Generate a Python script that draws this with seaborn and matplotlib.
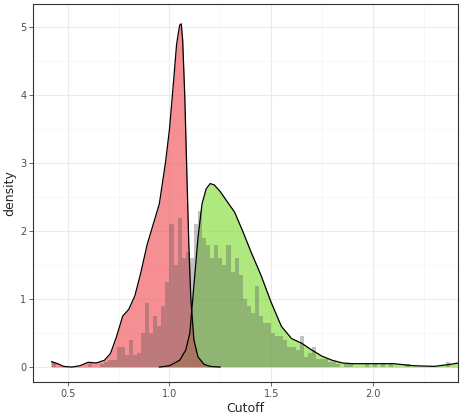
import numpy as np
import pandas as pd
import matplotlib
matplotlib.use("Agg")
import matplotlib.pyplot as plt
import seaborn as sns

# histogram bins (left edges, width 0.02) and density heights
bin_starts = [round(0.42 + 0.02 * i, 2) for i in range(100)]
hist_vals = {0.42: 0.07, 0.60: 0.05, 0.66: 0.05, 0.68: 0.07, 0.70: 0.1, 0.72: 0.1,
             0.74: 0.3, 0.76: 0.3, 0.78: 0.18, 0.80: 0.4, 0.82: 0.18, 0.84: 0.2,
             0.86: 0.5, 0.88: 0.95, 0.90: 0.5, 0.92: 0.75, 0.94: 0.6, 0.96: 0.9,
             0.98: 1.25, 1.00: 2.1, 1.02: 1.5, 1.04: 2.2, 1.06: 1.6, 1.08: 1.7,
             1.10: 1.6, 1.12: 2.1, 1.14: 2.3, 1.16: 1.9, 1.18: 1.8, 1.20: 1.6,
             1.22: 1.8, 1.24: 1.6, 1.26: 1.5, 1.28: 1.8, 1.30: 1.4, 1.32: 1.6,
             1.34: 1.35, 1.36: 1.0, 1.38: 0.9, 1.40: 0.8, 1.42: 1.2, 1.44: 0.75,
             1.46: 0.65, 1.48: 0.65, 1.50: 0.5, 1.52: 0.45, 1.54: 0.45, 1.56: 0.4,
             1.58: 0.3, 1.60: 0.3, 1.62: 0.25, 1.64: 0.45, 1.66: 0.15, 1.68: 0.2,
             1.70: 0.3, 1.72: 0.12, 1.74: 0.12, 1.76: 0.12, 1.78: 0.08, 1.80: 0.08,
             1.82: 0.05, 1.86: 0.05, 1.88: 0.05, 1.96: 0.05, 2.00: 0.05, 2.04: 0.05,
             2.08: 0.05, 2.16: 0.05, 2.36: 0.07}
hist_heights = [hist_vals.get(b, 0.0) for b in bin_starts]

# density curve of first group (red)
red_x = [0.42, 0.45, 0.48, 0.52, 0.56, 0.60, 0.64, 0.68, 0.71, 0.74, 0.77, 0.80, 0.83,
         0.86, 0.89, 0.92, 0.95, 0.98, 1.00, 1.02, 1.035, 1.05, 1.058, 1.065, 1.075,
         1.085, 1.095, 1.105, 1.12, 1.14, 1.17, 1.20, 1.25]
red_y = [0.08, 0.05, 0.01, 0.0, 0.02, 0.07, 0.06, 0.1, 0.2, 0.45, 0.75, 0.85, 1.05,
         1.4, 1.8, 2.1, 2.4, 3.0, 3.5, 4.2, 4.75, 5.03, 5.05, 4.8, 4.0,
         2.9, 1.8, 1.0, 0.4, 0.15, 0.04, 0.01, 0.0]

# density curve of second group (green)
green_x = [0.95, 1.00, 1.05, 1.08, 1.10, 1.12, 1.14, 1.16, 1.18, 1.20, 1.22, 1.25,
           1.28, 1.32, 1.36, 1.40, 1.45, 1.50, 1.55, 1.60, 1.65, 1.70, 1.75, 1.80,
           1.85, 1.90, 2.00, 2.10, 2.20, 2.30, 2.38, 2.42]
green_y = [0.0, 0.02, 0.1, 0.25, 0.5, 1.2, 1.9, 2.4, 2.62, 2.7, 2.68, 2.58,
           2.45, 2.28, 2.0, 1.7, 1.35, 0.95, 0.6, 0.42, 0.35, 0.25, 0.16, 0.1,
           0.06, 0.05, 0.05, 0.05, 0.02, 0.01, 0.04, 0.06]

sns.set_theme(style="whitegrid")
fig, ax = plt.subplots(figsize=(4.74, 4.13), dpi=100)
fig.subplots_adjust(left=0.07, right=0.967, top=0.99, bottom=0.075)

ax.fill_between(green_x, green_y, color="#86dc3c", alpha=0.65, lw=0)
ax.fill_between(red_x, red_y, color="#f0545a", alpha=0.65, lw=0)

hist_df = pd.DataFrame({"center": [b + 0.01 for b in bin_starts], "h": hist_heights})
edges = [0.42 + 0.02 * i for i in range(101)]
sns.histplot(data=hist_df, x="center", weights="h", bins=edges,
             color="#555555", alpha=0.35, edgecolor="none", linewidth=0, ax=ax)
sns.lineplot(x=red_x, y=red_y, color="black", lw=0.9, ax=ax)
sns.lineplot(x=green_x, y=green_y, color="black", lw=0.9, ax=ax)

ax.set_xlim(0.33, 2.42)
ax.set_ylim(-0.22, 5.34)
ax.set_xticks([0.5, 1.0, 1.5, 2.0])
ax.set_xticklabels(["0.5", "1.0", "1.5", "2.0"])
ax.set_yticks([0, 1, 2, 3, 4, 5])
ax.set_xticks([0.75, 1.25, 1.75, 2.25], minor=True)
ax.set_yticks([0.5, 1.5, 2.5, 3.5, 4.5], minor=True)
ax.grid(True, which="major", color="#ebebeb", lw=0.8)
ax.grid(True, which="minor", color="#f4f4f4", lw=0.5)
for s in ax.spines.values():
    s.set_color("#333333")
    s.set_linewidth(0.8)
ax.tick_params(axis="both", which="major", labelsize=7, colors="#4d4d4d",
               length=3, width=0.6, left=True, bottom=True, pad=2)
ax.tick_params(which="minor", length=0)
ax.set_xlabel("Cutoff", fontsize=9, labelpad=2)
ax.set_ylabel("density", fontsize=9, labelpad=3)
fig.savefig("out.png", dpi=100)
